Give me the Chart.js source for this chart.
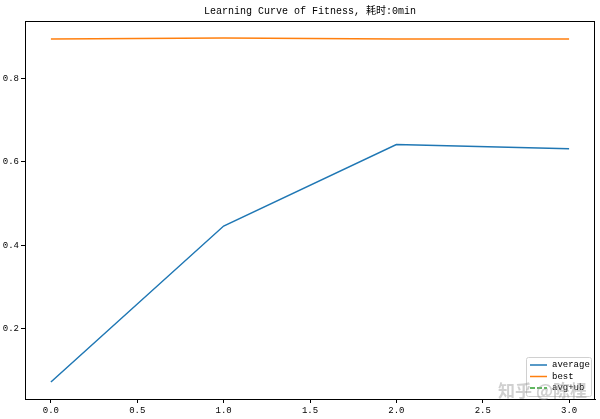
<!DOCTYPE html>
<html>
<head>
<meta charset="utf-8">
<script src="https://cdn.jsdelivr.net/npm/chart.js@4.4.0/dist/chart.umd.min.js"></script>
<style>
  html, body { margin: 0; padding: 0; background: #fff; }
  #wrap { width: 600px; height: 419px; }
</style>
</head>
<body>
<div id="wrap"><canvas id="myChart" width="600" height="419"></canvas></div>
<script>
// data
const generations = [0, 1, 2, 3];
const average = [0.071, 0.446, 0.642, 0.632];
const best = [0.896, 0.898, 0.896, 0.896];
const avgUb = [];
const seriesLabels = ["average", "best", "avg+ub"];
const xTicks = [0, 0.5, 1, 1.5, 2, 2.5, 3];
const yTicks = [0.2, 0.4, 0.6, 0.8];
const titleText = "Learning Curve of Fitness, 耗时:0min";
const watermark = "知乎 @陈桯";

const monoFont = "'Liberation Mono', 'Noto Sans CJK SC', monospace";
const colors = ["#1f77b4", "#ff7f0e", "#2ca02c"];

function toPoints(arr) {
  return arr.map((v, i) => ({ x: generations[i], y: v }));
}

// frame, title, legend and watermark, drawn like matplotlib does
const decor = {
  id: "decor",
  afterDraw(chart) {
    const ctx = chart.ctx;
    const a = chart.chartArea;
    ctx.save();
    ctx.strokeStyle = "#000";
    ctx.lineWidth = 1;
    ctx.strokeRect(Math.round(a.left) + 0.5, Math.round(a.top) + 0.5,
      Math.round(a.right - a.left) - 1, Math.round(a.bottom - a.top));

    // title
    ctx.fillStyle = "#000";
    ctx.font = "10px " + monoFont;
    ctx.textAlign = "center";
    ctx.textBaseline = "middle";
    ctx.fillText(titleText, (a.left + a.right) / 2, 11);

    // legend box (lower right)
    const bx = a.right - 69, by = a.bottom - 42, bw = 65, bh = 39;
    ctx.fillStyle = "rgba(255,255,255,0.85)";
    ctx.strokeStyle = "#d0d0d0";
    ctx.beginPath();
    ctx.roundRect(bx + 0.5, by + 0.5, bw, bh, 2);
    ctx.fill();
    ctx.stroke();
    ctx.font = "9px " + monoFont;
    ctx.textAlign = "left";
    chart.data.datasets.forEach((ds, i) => {
      const yy = by + 8 + i * 11.5;
      ctx.strokeStyle = ds.borderColor;
      ctx.lineWidth = 1.5;
      ctx.setLineDash(ds.borderDash || []);
      ctx.beginPath();
      ctx.moveTo(bx + 4, yy);
      ctx.lineTo(bx + 21, yy);
      ctx.stroke();
      ctx.setLineDash([]);
      ctx.fillStyle = "#000";
      ctx.fillText(ds.label, bx + 26, yy);
    });

    // watermark
    ctx.font = "bold 17px 'Noto Sans CJK SC'";
    ctx.textAlign = "right";
    ctx.textBaseline = "alphabetic";
    ctx.fillStyle = "rgba(150,150,150,0.45)";
    ctx.fillText(watermark, a.right - 8, a.bottom - 2);
    ctx.restore();
  }
};

new Chart(document.getElementById("myChart").getContext("2d"), {
  type: "line",
  data: {
    datasets: [
      { label: seriesLabels[0], data: toPoints(average), borderColor: colors[0], backgroundColor: colors[0] },
      { label: seriesLabels[1], data: toPoints(best), borderColor: colors[1], backgroundColor: colors[1] },
      { label: seriesLabels[2], data: toPoints(avgUb), borderColor: colors[2], backgroundColor: colors[2], borderDash: [5, 2] }
    ]
  },
  options: {
    responsive: false,
    animation: false,
    layout: { padding: { top: 21, right: 5, left: 0, bottom: 0 } },
    elements: {
      line: { borderWidth: 1.5, tension: 0, fill: false },
      point: { radius: 0 }
    },
    plugins: {
      legend: { display: false },
      title: { display: false },
      tooltip: { enabled: false }
    },
    scales: {
      x: {
        type: "linear",
        min: -0.15,
        max: 3.15,
        afterBuildTicks: (s) => { s.ticks = xTicks.map(v => ({ value: v })); },
        afterFit: (s) => { s.height = 20; },
        grid: { drawOnChartArea: false, tickLength: 4, color: "#000" },
        border: { color: "#000" },
        ticks: {
          color: "#000",
          padding: 2,
          maxRotation: 0,
          font: { family: monoFont, size: 9 },
          callback: (v) => Number(v).toFixed(1)
        }
      },
      y: {
        type: "linear",
        min: 0.030,
        max: 0.939,
        afterBuildTicks: (s) => { s.ticks = yTicks.map(v => ({ value: v })); },
        afterFit: (s) => { s.width = 25; },
        grid: { drawOnChartArea: false, tickLength: 4, color: "#000" },
        border: { color: "#000" },
        ticks: {
          color: "#000",
          padding: 2,
          font: { family: monoFont, size: 9 },
          callback: (v) => Number(v).toFixed(1)
        }
      }
    }
  },
  plugins: [decor]
});
</script>
</body>
</html>
